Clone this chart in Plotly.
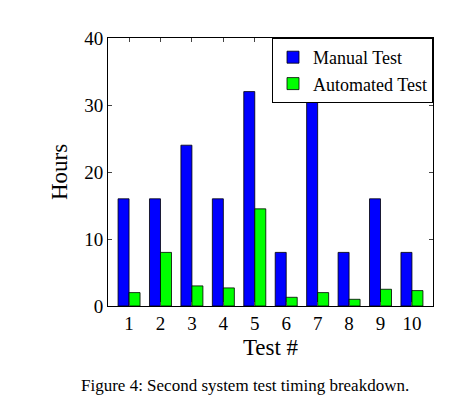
import plotly.graph_objects as go

tests = [1, 2, 3, 4, 5, 6, 7, 8, 9, 10]
manual_hours = [16, 16, 24, 16, 32, 8, 40, 8, 16, 8]
automated_hours = [2, 8, 3, 2.7, 14.5, 1.3, 2, 1, 2.5, 2.3]

fig = go.Figure()
fig.add_trace(go.Bar(x=tests, y=manual_hours, name="Manual Test",
                     marker=dict(color="#0000ff", line=dict(color="black", width=0.8))))
fig.add_trace(go.Bar(x=tests, y=automated_hours, name="Automated Test",
                     marker=dict(color="#00ff00", line=dict(color="black", width=0.8))))

font = "Liberation Serif, Times New Roman, serif"
fig.update_layout(
    width=474, height=414,
    margin=dict(l=100, r=49, t=30, b=116),
    plot_bgcolor="white", paper_bgcolor="white",
    barmode="group", bargap=0.3, bargroupgap=0,
    font=dict(family=font, size=19, color="black"),
    legend=dict(x=1, y=1, xanchor="right", yanchor="top",
                bordercolor="black", borderwidth=1, bgcolor="white",
                font=dict(size=18), tracegroupgap=0, itemwidth=30),
    annotations=[dict(text="Figure 4: Second system test timing breakdown.",
                      xref="paper", yref="paper", x=0.42, xanchor="center", y=-0.34,
                      showarrow=False, font=dict(size=17))],
)
fig.update_xaxes(range=[0.33, 10.67], tickvals=tests, ticks="inside", ticklen=4,
                 showline=True, linecolor="black", mirror="ticks", showgrid=False,
                 title=dict(text="Test #", standoff=6))
fig.update_yaxes(range=[0, 40], tickvals=[0, 10, 20, 30, 40], ticks="inside", ticklen=4,
                 showline=True, linecolor="black", mirror="ticks", showgrid=False,
                 zeroline=False, title=dict(text="Hours", standoff=10))

fig.write_html("out.html")
